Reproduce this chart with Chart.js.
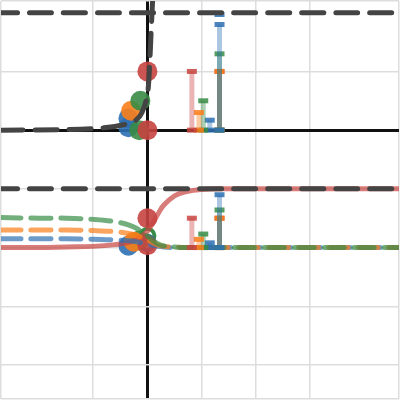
<!DOCTYPE html><html><head><script src="https://cdn.jsdelivr.net/npm/chart.js@4"></script>
<style>html,body{margin:0;padding:0;background:#fff;overflow:hidden}#c{position:absolute;left:-10px;top:-10px;width:420px;height:420px}</style></head><body><div id="c"><canvas id="cv" width="420" height="420"></canvas></div>
<script>
const RED='#c74440',BLUE='#2d70b3',GREEN='#388c46',ORANGE='#fa7e19',DARK='#444';
const topCurveX=[-2.7,-1.5,-0.8,-0.4,-0.2,-0.1,0,0.04,0.07,0.1];
const topCurveY=[0,0.01,0.04,0.1,0.18,0.3,0.6,1.1,1.7,2.3];
const stemTopX=[0.82,0.95,1.03,1.15,1.33,1.33,1.33,1.33];
const stemTopY=[1.0,0.3,0.5,0.17,1.8,1.3,1.0,1.0];
const stemTopC=[RED,ORANGE,GREEN,BLUE,BLUE,GREEN,ORANGE,RED];
const capX=[1.33],capY=[1.97];
const ptTopX=[-0.35,-0.35,-0.3,-0.13,-0.15,0,0];
const ptTopY=[0.05,0.2,0.33,0.5,0.0,1.0,0.0];
const ptTopC=[BLUE,BLUE,ORANGE,GREEN,GREEN,RED,RED];
const curveX=[-2.7,-2,-1.5,-1,-0.6,-0.3,-0.1,0,0.1,0.2,0.3,0.5,0.7,1.0,1.5,2.5,4.7];
const redC=[-2,-2,-1.99,-1.98,-1.95,-1.9,-1.8,-1.72,-1.58,-1.42,-1.28,-1.12,-1.05,-1.01,-1,-1,-1];
const greenC=[-1.49,-1.5,-1.5,-1.52,-1.56,-1.63,-1.73,-1.8,-1.88,-1.94,-1.97,-1.99,-2,-2,-2,-2,-2];
const orangeC=[-1.7,-1.7,-1.7,-1.71,-1.73,-1.77,-1.83,-1.87,-1.92,-1.96,-1.98,-1.99,-2,-2,-2,-2,-2];
const blueC=[-1.85,-1.85,-1.85,-1.86,-1.87,-1.89,-1.92,-1.94,-1.96,-1.98,-1.99,-2,-2,-2,-2,-2,-2];
const stemBotX=[0.82,0.95,1.03,1.15,1.33,1.33,1.33,1.33];
const stemBotY=[-1.5,-1.86,-1.77,-1.92,-1.1,-1.36,-1.5,-1.5];
const stemBotC=[RED,ORANGE,GREEN,BLUE,BLUE,GREEN,ORANGE,RED];
const ptBotX=[-0.35,-0.15,-0.25,0,0];
const ptBotY=[-1.97,-1.88,-1.9,-1.5,-1.96];
const ptBotC=[BLUE,GREEN,ORANGE,RED,RED];
const hollowX=[0,0],hollowY=[-1.8,-1.92],hollowC=[GREEN,BLUE];

function a(c,al){const n=parseInt(c.slice(1),16);return `rgba(${n>>16},${(n>>8)&255},${n&255},${al})`;}
const ds=[];
const dash=(data,col,w)=>({data,showLine:true,borderColor:col,borderWidth:w,borderDash:[22,12],pointRadius:0,tension:0.3,fill:false,borderCapStyle:'round'});
ds.push(dash([{x:-2.8,y:2},{x:4.8,y:2}],DARK,5));
ds.push(dash([{x:-2.8,y:-1},{x:4.8,y:-1}],DARK,5));
ds.push(dash(topCurveX.map((x,i)=>({x,y:topCurveY[i]})),DARK,5));
function stems(X,Y,C,base){X.forEach((x,i)=>ds.push({data:[{x,y:base},{x,y:Y[i]}],showLine:true,borderColor:a(C[i],0.4),borderWidth:5,pointStyle:'line',pointRadius:5,pointBorderWidth:5,pointBorderColor:a(C[i],0.85)}));}
stems(stemTopX,stemTopY,stemTopC,0);
stems(stemBotX,stemBotY,stemBotC,-2);
ds.push({data:[{x:capX[0],y:capY[0]}],pointStyle:'line',pointRadius:5,pointBorderWidth:5,pointBorderColor:a(BLUE,0.85)});
const curve=(Y,col,d)=>({data:curveX.map((x,i)=>({x,y:Y[i]})),showLine:true,borderColor:a(col,0.7),borderWidth:5,borderDash:d?[20,10]:[],pointRadius:0,tension:0.4,borderCapStyle:'round'});
ds.push(curve(greenC,GREEN,true),curve(orangeC,ORANGE,true),curve(blueC,BLUE,true),curve(redC,RED,false));
const pts=(X,Y,C)=>({data:X.map((x,i)=>({x,y:Y[i]})),pointRadius:10,pointBackgroundColor:C.map(c=>a(c,0.9)),pointBorderWidth:0});
ds.push(pts(ptTopX,ptTopY,ptTopC),pts(ptBotX,ptBotY,ptBotC));
ds.push({data:hollowX.map((x,i)=>({x,y:hollowY[i]})),pointRadius:7,pointBackgroundColor:'#fff',pointBorderColor:hollowC,pointBorderWidth:4});
new Chart(document.getElementById('cv'),{type:'scatter',data:{datasets:ds},options:{responsive:false,animation:false,events:[],
layout:{padding:0},plugins:{legend:{display:false},tooltip:{enabled:false}},
scales:{x:{type:'linear',min:-2.7,max:4.64,ticks:{display:false,stepSize:1},border:{display:false},
grid:{color:c=>c.tick.value===0?'#111':'#ddd',lineWidth:c=>c.tick.value===0?3:1.5,drawTicks:false}},
y:{type:'linear',min:-4.58,max:2.2,ticks:{display:false,stepSize:1},border:{display:false},
grid:{color:c=>c.tick.value===0?'#111':'#ddd',lineWidth:c=>c.tick.value===0?3:1.5,drawTicks:false}}}}});
</script></body></html>
